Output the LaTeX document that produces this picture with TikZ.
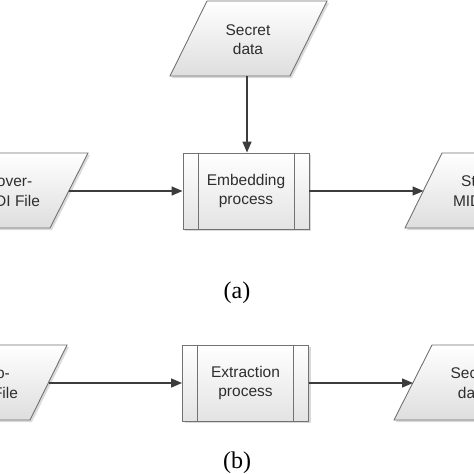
\documentclass[tikz,border=0pt]{standalone}
\usepackage{fontspec}
\setmainfont{Liberation Sans}
\newfontfamily\capserif{Liberation Serif}
\usetikzlibrary{arrows.meta,shadows}
\definecolor{edgegray}{HTML}{727272}
\definecolor{arrgray}{HTML}{3C3C3C}
\definecolor{txtgray}{HTML}{2E2E2E}
\tikzset{
  shapefill/.style={top color=white,bottom color=black!13,draw=edgegray,line width=0.9pt},
  shadowfill/.style={fill=black!14},
  lbl/.style={font=\fontsize{15.5}{19.5}\selectfont,align=center,text=txtgray,inner sep=0pt},
  procbox/.style={draw=edgegray,line width=0.9pt,top color=white,bottom color=black!11,
    minimum width=126pt,minimum height=76pt,inner sep=0pt,
    drop shadow={shadow xshift=2pt,shadow yshift=-2pt,fill=black!25,opacity=0.6}},
  conn/.style={draw=arrgray,line width=1.4pt,-{Triangle[length=11pt,width=9pt]}},
  capt/.style={font=\capserif\fontsize{24}{28}\selectfont,text=black,inner sep=0pt}
}
\begin{document}
\begin{tikzpicture}[x=1pt,y=-1pt]
\useasboundingbox (0,0) rectangle (474,474);
% ---------- panel (a) ----------
% Secret data
\fill[shadowfill] (172,78) -- (292,78) -- (329,3) -- (209,3) -- cycle;
\path[shapefill] (170,76) -- (290,76) -- (327,1) -- (207,1) -- cycle;
\node[lbl] (secret) at (248,39.5) {Secret\\data};
\coordinate (secretS) at (247,76);
% Cover-MIDI File
\fill[shadowfill] (-68,230) -- (52,230) -- (90,155) -- (-30,155) -- cycle;
\path[shapefill] (-70,228) -- (50,228) -- (88,153) -- (-32,153) -- cycle;
\node[lbl] (cover) at (9,191) {Cover-\\MIDI File};
\coordinate (coverE) at (69,191);
% Stego-MIDI File
\fill[shadowfill] (407,230) -- (527,230) -- (564,155) -- (444,155) -- cycle;
\path[shapefill] (405,228) -- (525,228) -- (562,153) -- (442,153) -- cycle;
\node[lbl] (stego) at (484,191) {Stego-\\MIDI File};
\coordinate (stegoW) at (423.5,191);
% Embedding process
\node[procbox] (embed) at (246,191) {};
\draw[edgegray,line width=0.9pt] ([xshift=15.8pt]embed.north west) -- ([xshift=15.8pt]embed.south west);
\draw[edgegray,line width=0.9pt] ([xshift=-15.3pt]embed.north east) -- ([xshift=-15.3pt]embed.south east);
\node[lbl] (embedtxt) at (246,191) {Embedding\\process};
\draw[conn] (secretS) -- (embed.north -| secretS);
\draw[conn] (coverE) -- (embed.west);
\draw[conn] (embed.east) -- (stegoW);
\node[capt] (capa) at (237,293) {(a)};
% ---------- panel (b) ----------
% Stego-MIDI File (input)
\fill[shadowfill] (-90,422) -- (32,422) -- (69,347) -- (-53,347) -- cycle;
\path[shapefill] (-92,420) -- (30,420) -- (67,345) -- (-55,345) -- cycle;
\node[lbl] (stegoin) at (-13,383) {Stego-\\MIDI File};
\coordinate (stegoinE) at (48.5,383);
% Secret data (output)
\fill[shadowfill] (396,422) -- (516,422) -- (554,347) -- (434,347) -- cycle;
\path[shapefill] (394,420) -- (514,420) -- (552,345) -- (432,345) -- cycle;
\node[lbl] (secretout) at (473,383) {Secret\\data};
\coordinate (secretoutW) at (413,383);
% Extraction process
\node[procbox] (extract) at (245.5,383) {};
\draw[edgegray,line width=0.9pt] ([xshift=15.3pt]extract.north west) -- ([xshift=15.3pt]extract.south west);
\draw[edgegray,line width=0.9pt] ([xshift=-15.3pt]extract.north east) -- ([xshift=-15.3pt]extract.south east);
\node[lbl] (extracttxt) at (245.5,383) {Extraction\\process};
\draw[conn] (stegoinE) -- (extract.west);
\draw[conn] (extract.east) -- (secretoutW);
\node[capt] (capb) at (237,463) {(b)};
\end{tikzpicture}
\end{document}
